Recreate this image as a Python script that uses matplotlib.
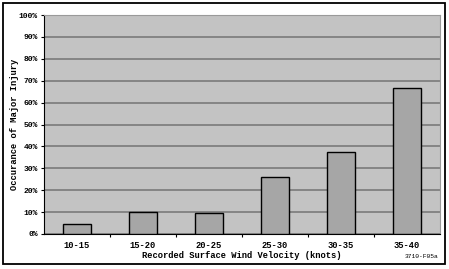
import matplotlib
matplotlib.use('Agg')
import matplotlib.pyplot as plt
from matplotlib.patches import Rectangle
import numpy as np

# data
categories = ['10-15', '15-20', '20-25', '25-30', '30-35', '35-40']
injury_pct = [4.7, 10.0, 9.5, 26.0, 37.5, 66.5]
y_ticks = list(range(0, 101, 10))
y_tick_labels = [f'{v}%' for v in y_ticks]

font = 'Liberation Mono'
weight = 'bold'

fig = plt.figure(figsize=(4.49, 2.69), dpi=100)
fig.patch.set_facecolor('white')

# outer black frame
fig.patches.append(Rectangle((3 / 449, 5 / 269), 442 / 449, 261 / 269,
                             transform=fig.transFigure, fill=False,
                             edgecolor='black', linewidth=1.3))

ax = fig.add_axes([44 / 449, 1 - 234 / 269, 396 / 449, 219 / 269])
ax.set_facecolor('#c3c3c3')

x = np.arange(len(categories))
ax.bar(x, injury_pct, width=0.41, color='#a6a6a6', edgecolor='black',
       linewidth=1.0, zorder=3)

ax.set_xlim(-0.5, len(categories) - 0.5)
ax.set_ylim(0, 100)
ax.set_yticks(y_ticks)
ax.set_yticklabels(y_tick_labels, fontfamily=font, fontsize=5.8,
                   fontweight=weight)
ax.set_xticks(x)
ax.set_xticklabels(categories, fontfamily=font, fontsize=6.3,
                   fontweight=weight)
ax.set_xticks(np.arange(0.5, len(categories) - 0.5), minor=True)
ax.tick_params(axis='x', which='major', length=0, pad=5)
ax.tick_params(axis='x', which='minor', length=2, direction='out', width=0.8)
ax.tick_params(axis='y', length=2.5, width=0.8, pad=2)

ax.grid(axis='y', color='#7a7a7a', linewidth=1.2, zorder=1)
ax.set_axisbelow(True)

ax.spines['left'].set_color('black')
ax.spines['bottom'].set_color('black')
ax.spines['top'].set_color('#9a9a9a')
ax.spines['right'].set_color('#9a9a9a')

ax.set_xlabel('Recorded Surface Wind Velocity (knots)', fontfamily=font,
              fontsize=6.3, fontweight=weight)
ax.set_ylabel('Occurance of Major Injury', fontfamily=font, fontsize=6.3,
              fontweight=weight)
ax.xaxis.set_label_coords(0.5, -0.077)
ax.yaxis.set_label_coords(-25 / 396, 0.5)

fig.text(438 / 449, 1 - 257 / 269, '3710-F05a', fontfamily=font, fontsize=4.5,
         ha='right', va='center')

fig.savefig('out.png', dpi=100)
